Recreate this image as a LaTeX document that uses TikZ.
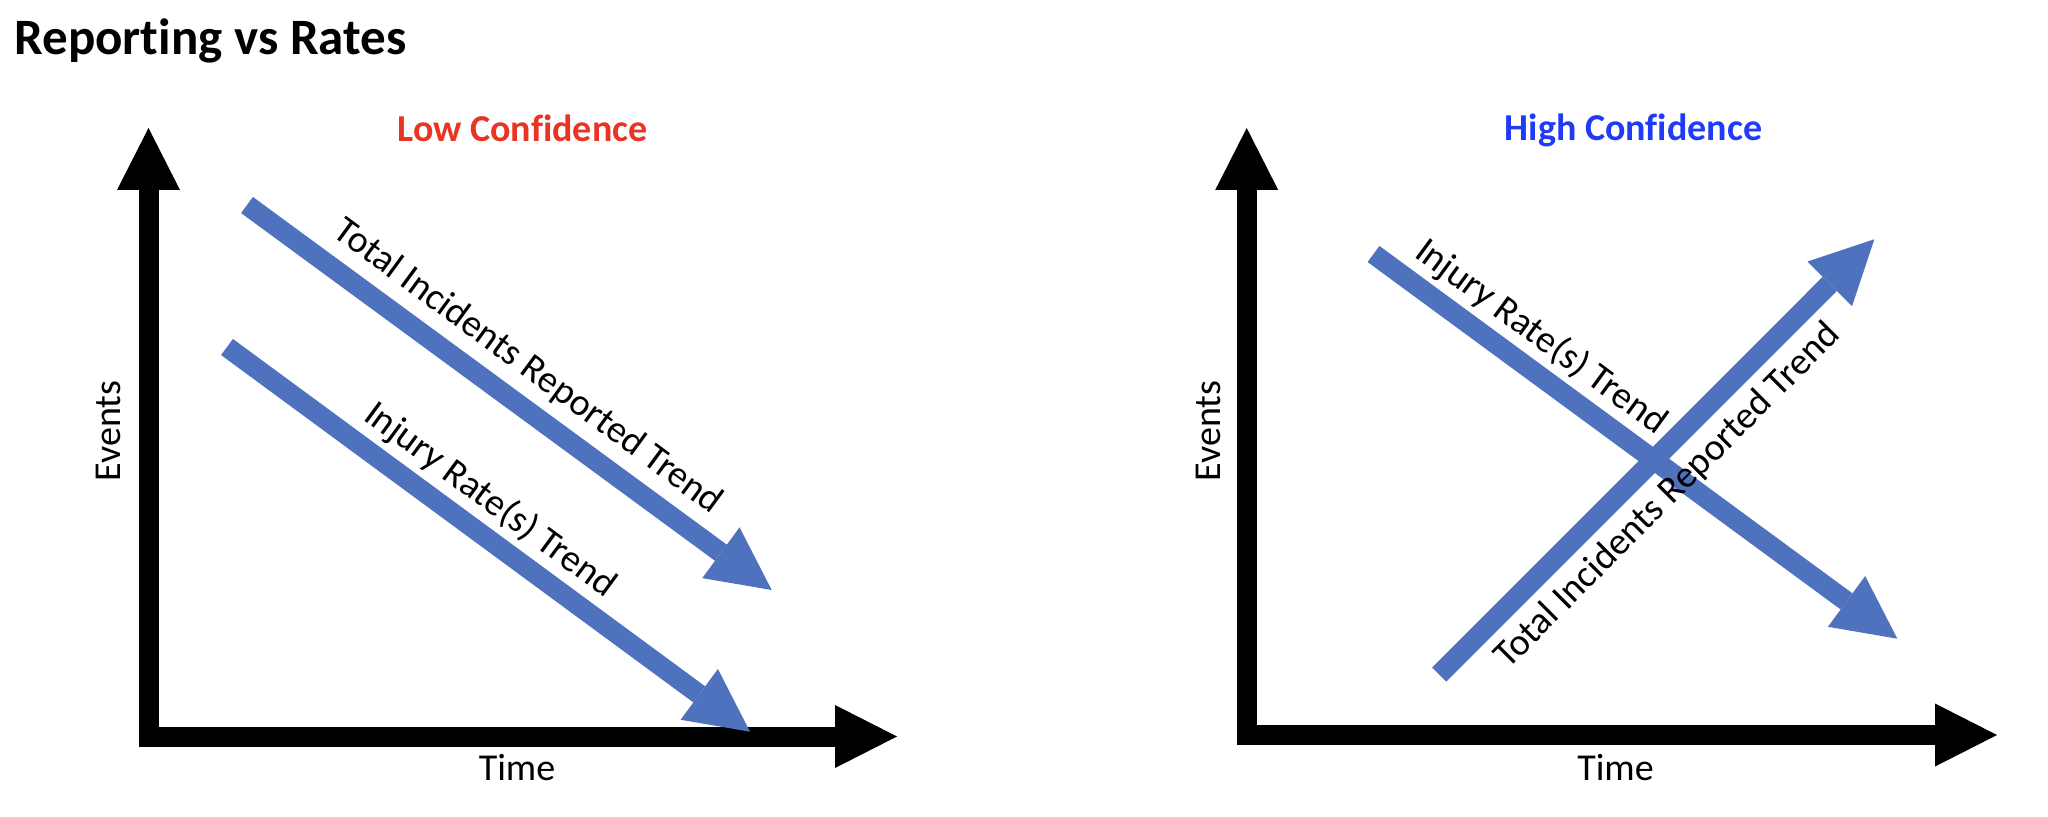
\documentclass[tikz,border=0pt]{standalone}
\usepackage{fontspec}
\setmainfont[Ligatures=NoCommon]{Carlito}
\usetikzlibrary{arrows.meta}

\definecolor{trendblue}{HTML}{4F72BE}
\definecolor{lowred}{HTML}{EA3323}
\definecolor{highblue}{HTML}{1F3BF5}

\begin{document}
\begin{tikzpicture}[x=0.5pt, y=-0.5pt,
    axis/.style={line width=10pt, line join=miter, {Triangle[length=31pt, width=31.5pt, line width=0pt]}-{Triangle[length=31pt, width=31.5pt, line width=0pt]}},
    trend/.style={line width=10pt, trendblue, -{Triangle[length=31.5pt, width=31.5pt, line width=0pt]}},
    lbl/.style={font=\fontsize{19}{22}\selectfont, inner sep=0pt},
    head/.style={font=\fontsize{19}{22}\selectfont\bfseries, inner sep=0pt}]

    \useasboundingbox (0,0) rectangle (2048,817);

    % Title
    \node[font=\fontsize{25.5}{29}\selectfont\bfseries, inner sep=0pt, anchor=base west] (title) at (14,55) {Reporting vs Rates};

    % Left panel: axes
    \draw[axis] (148.5,128) -- (148.5,736.5) -- (897,736.5);
    \node[head, text=lowred] (lowconf) at (522.5,128) {Low Confidence};
    \node[lbl, rotate=90] (eventsL) at (108,431) {Events};
    \node[lbl] (timeL) at (517,768) {Time};

    % Left panel: trends
    \coordinate (totLs) at (247,205);
    \coordinate (totLe) at (771.7,590);
    \coordinate (injLs) at (227,347);
    \coordinate (injLe) at (750,731.7);
    \draw[trend] (totLs) -- (totLe);
    \draw[trend] (injLs) -- (injLe);
    \node[lbl, rotate=-36.3] (totLlbl) at (528,367) {Total Incidents Reported Trend};
    \node[lbl, rotate=-36.4] (injLlbl) at (490,500) {Injury Rate(s) Trend};

    % Right panel: axes
    \draw[axis] (1246.7,128) -- (1246.7,735) -- (1997,735);
    \node[head, text=highblue] (highconf) at (1633.5,130) {High Confidence};
    \node[lbl, rotate=90] (eventsR) at (1208,431) {Events};
    \node[lbl] (timeR) at (1615.5,768) {Time};

    % Right panel: trends
    \coordinate (injRs) at (1373.5,254);
    \coordinate (injRe) at (1897.3,638.7);
    \coordinate (totRs) at (1439.2,674.5);
    \coordinate (totRe) at (1874.3,239.3);
    \draw[trend] (injRs) -- (injRe);
    \draw[trend] (totRs) -- (totRe);
    \node[lbl, rotate=-36.3] (injRlbl) at (1541,337) {Injury Rate(s) Trend};
    \node[lbl, rotate=45] (totRlbl) at (1668,496) {Total Incidents Reported Trend};

\end{tikzpicture}
\end{document}
